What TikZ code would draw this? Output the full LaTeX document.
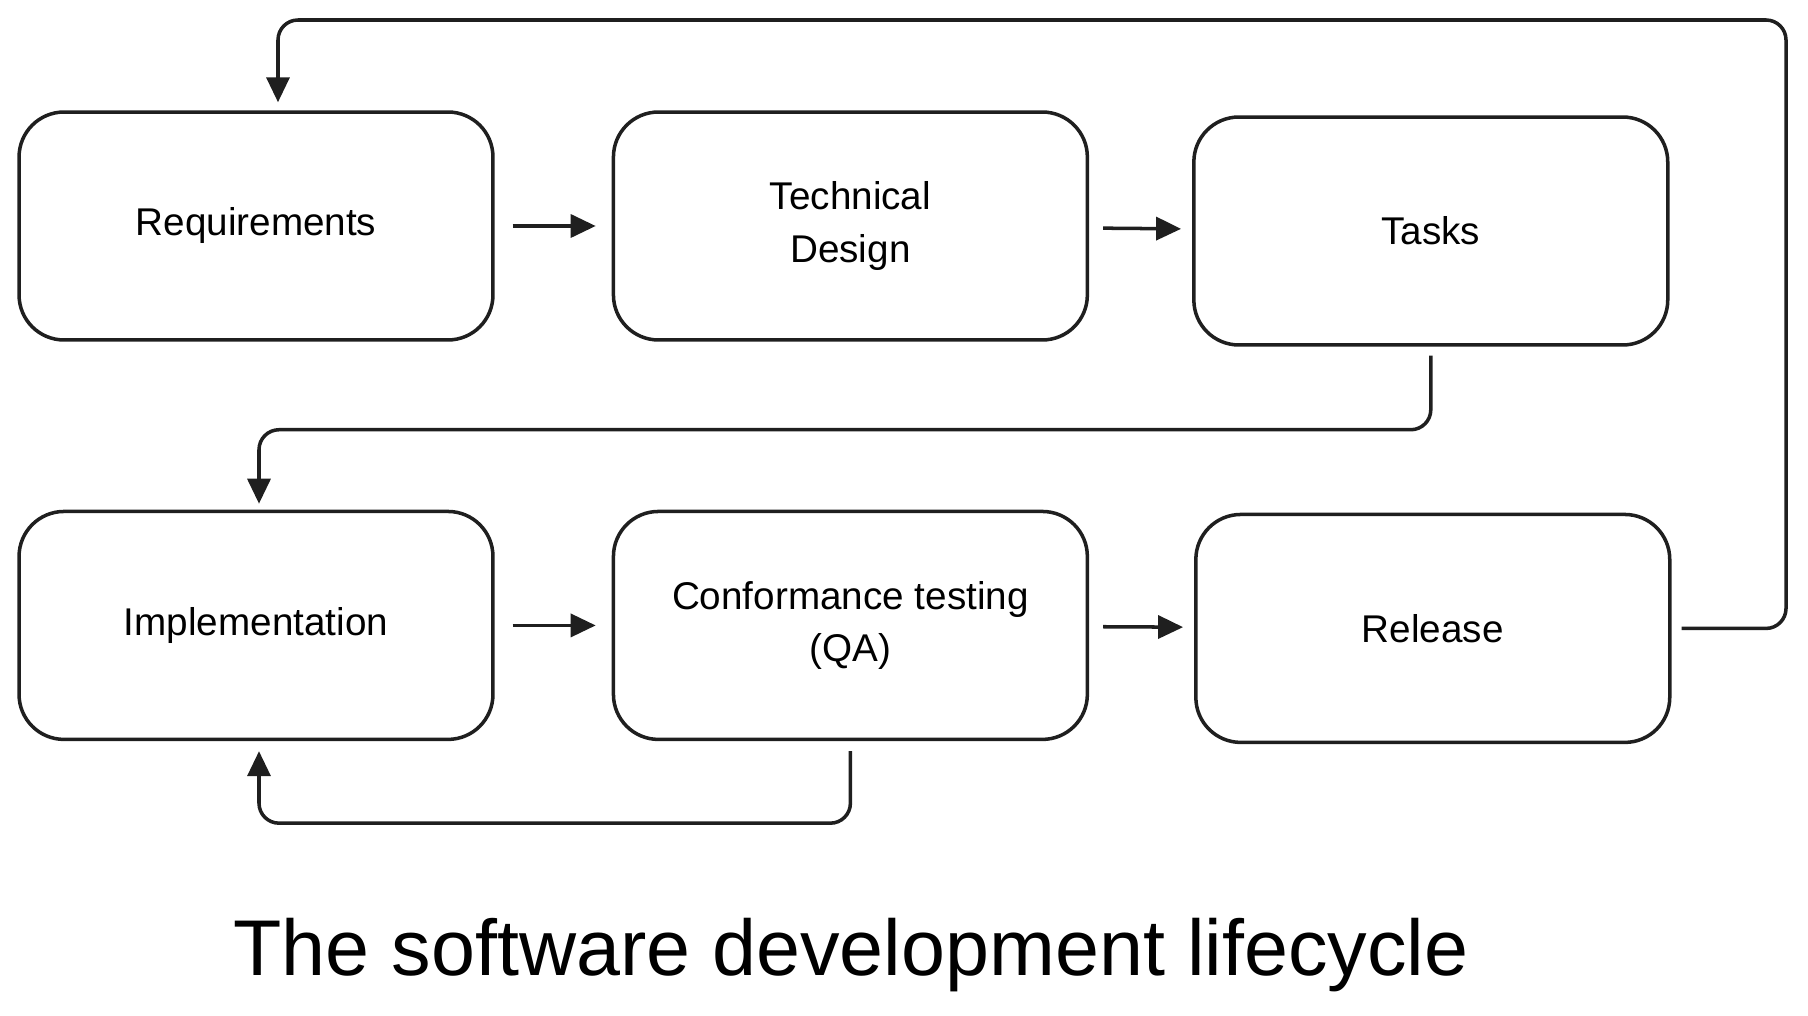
\documentclass[tikz,border=0pt]{standalone}
\usepackage{fontspec}
\setmainfont{Liberation Sans}
\usetikzlibrary{positioning}
\usetikzlibrary{calc}
\usetikzlibrary{arrows.meta}

\begin{document}
\begin{tikzpicture}[x=0.02cm, y=0.02cm,
        Box/.style={rectangle, rounded corners=0.9cm, draw=black!88, line width=2pt, minimum width=9.48cm, minimum height=4.56cm, align=center, font=\fontsize{22}{30}\selectfont},
        Flow/.style={-{Triangle[length=5mm, width=4.6mm]}, line width=2pt, draw=black!88, rounded corners=0.4cm},
        ]
    \useasboundingbox (0,0) rectangle (1808,-1016);

    \node[Box] (Req) at (256,-226) {Requirements};
    \node[Box, right=2.34cm of Req] (Design) {Technical\\Design};
    \node[Box, right=2.06cm of Design, yshift=-0.1cm] (Tasks) {Tasks};
    \node[Box, below=3.36cm of Req] (Impl) {Implementation};
    \node[Box, right=2.34cm of Impl] (QA) {Conformance testing\\(QA)};
    \node[Box, right=2.1cm of QA, yshift=-0.06cm] (Rel) {Release};

    \draw[Flow, shorten <=0.36cm, shorten >=0.32cm] (Req) -- (Design);
    \draw[Flow, shorten <=0.28cm, shorten >=0.22cm] (Design) -- (Tasks);
    \draw[Flow, shorten <=0.36cm, shorten >=0.32cm] (Impl) -- (QA);
    \draw[Flow, shorten <=0.28cm, shorten >=0.22cm] (QA) -- (Rel);

    % loops back
    \coordinate (TopR) at (1786,-20);
    \draw[Flow] ([xshift=0.2cm]Rel.east) -| (TopR) -| ([xshift=0.44cm, yshift=0.16cm]Req.north);
    \draw[Flow] ([yshift=-0.18cm]Tasks.south) -- ++(0,-74) -| ([xshift=0.06cm, yshift=0.12cm]Impl.north);
    \draw[Flow] ([yshift=-0.2cm]QA.south) -- ++(0,-72) -| ([xshift=0.06cm, yshift=-0.2cm]Impl.south);

    \node (Title) at (851,-955) {\fontsize{45}{54}\selectfont The software development lifecycle};
\end{tikzpicture}
\end{document}
